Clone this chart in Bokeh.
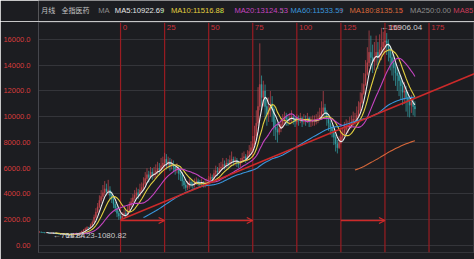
import numpy as np
from bokeh.plotting import figure
from bokeh.models import Range1d, FixedTicker, Arrow, OpenHead, ColumnDataSource
from bokeh.layouts import column
from bokeh.embed import file_html
from bokeh.resources import INLINE
from bokeh.core.properties import value

# ---------------- data (monthly bars, index -46 .. 167) ----------------
first_index = -46
closes = [
    1050, 1020, 1000, 980, 1000, 960, 940, 970, 950, 930,
    900, 880, 860, 900, 870, 850, 820, 800, 850, 880,
    900, 950, 920, 1000, 1100, 1200,
    1300, 1400, 1350, 1600, 1800,
    2200, 2600, 3000, 3500, 3800,
    4100, 4400, 4200, 4300, 3900,
    3600, 3200, 2900, 2500, 2300,
    2100, 2300, 2500, 2400, 2800,
    3100, 3400, 3700, 3900, 4100,
    3900, 4300, 4500, 4800, 5200,
    5500, 5300, 5700, 5500, 5600,
    5800, 6000, 5900, 6200, 6400,
    6700, 6300, 6500, 6200, 6300,
    6100, 5900, 6000, 5600, 5500,
    5000, 4700, 4500, 4600, 4900,
    4800, 4700, 4900, 5000, 4900,
    4800, 4900, 4700, 4800, 4900,
    5100, 5300, 5200, 5600, 5800,
    5700, 6000, 6100, 6300, 6200,
    6400, 6300, 6600, 6700, 6500,
    6600, 6400, 6300, 6500, 6800,
    6900, 6700, 7000, 7300, 7600,
    7900, 8500, 9500, 10800, 12500,
    11500, 12000, 10800, 10200, 10500,
    11000, 10600, 9200, 9000, 8800,
    9100, 9400, 9700, 10000, 9800,
    9700, 9900, 10000, 9800, 9600,
    9800, 9700, 9900, 9600, 9800,
    9700, 9900, 9600, 9600, 9700,
    9700, 9800, 9900, 10100, 10400,
    10700, 10300, 9900, 9500, 9200,
    8900, 8400, 7900, 7600, 8000,
    8400, 8700, 9000, 9200, 9200,
    9500, 9600, 9800, 9800, 10100,
    10500, 11100, 11800, 12500, 13300,
    14200, 15000, 14600, 14300, 14600,
    15000, 14600, 15200, 15400, 15800,
    15900, 15700, 15300, 14600, 14200,
    13800, 13400, 13200, 12800, 12400,
    11900, 12000, 11500, 11200, 10900,
    11100, 10800, 10600,
]
highs = [
    1100, 1080, 1040, 1020, 1030, 1010, 980, 1000, 990, 970,
    950, 920, 900, 930, 920, 890, 870, 840, 880, 910,
    940, 990, 980, 1050, 1150, 1280,
    1400, 1500, 1450, 1700, 1950,
    2400, 2900, 3300, 3900, 4300,
    4700, 5000, 4800, 5100, 4600,
    4200, 3800, 3400, 3100, 2700,
    2500, 2600, 2800, 2800, 3100,
    3400, 3700, 4000, 4300, 4500,
    4400, 4800, 4900, 5300, 5700,
    6000, 5800, 6100, 6000, 6100,
    6300, 6500, 6400, 6800, 6900,
    7200, 7100, 6900, 6800, 6700,
    6600, 6300, 6400, 6200, 5900,
    5700, 5200, 4900, 5000, 5200,
    5200, 5000, 5200, 5300, 5200,
    5100, 5200, 5000, 5100, 5200,
    5400, 5600, 5500, 5900, 6200,
    6100, 6400, 6500, 6800, 6600,
    6800, 6700, 7000, 7300, 6900,
    6900, 6800, 6600, 6800, 7200,
    7300, 7100, 7400, 7800, 8100,
    8500, 9300, 10500, 12300, 15700,
    13200, 12800, 12500, 11500, 11500,
    12000, 11600, 10800, 9800, 9500,
    9600, 9900, 10200, 10400, 10300,
    10100, 10300, 10500, 10200, 10000,
    10200, 10100, 10300, 10000, 10200,
    10100, 10300, 10000, 10000, 10100,
    10100, 10200, 10400, 10700, 11200,
    12000, 11000, 10500, 10000, 9700,
    9400, 9000, 8600, 8200, 8500,
    8900, 9200, 9600, 9800, 9700,
    10000, 10100, 10400, 10300, 10800,
    11200, 11900, 12600, 13400, 14400,
    15400, 16700, 16300, 15600, 15800,
    16300, 15800, 16400, 16906.04, 16600,
    16700, 16500, 16000, 15500, 15000,
    14600, 14200, 13900, 13500, 13200,
    12800, 12700, 12400, 11900, 11600,
    11700, 11500, 11200,
]
lows = [
    1000, 990, 970, 950, 960, 930, 910, 920, 920, 900,
    870, 850, 830, 840, 850, 820, 790, 760, 780, 830,
    850, 880, 890, 900, 980, 1060,
    1150, 1250, 1280, 1300, 1550,
    1750, 2100, 2500, 2900, 3300,
    3600, 3900, 3900, 3900, 3600,
    3300, 2900, 2600, 2200, 2000,
    1950, 2000, 2200, 2200, 2300,
    2700, 3000, 3300, 3500, 3700,
    3600, 3800, 4100, 4400, 4700,
    5000, 4900, 5200, 5100, 5200,
    5300, 5500, 5500, 5700, 5900,
    6100, 5900, 6000, 5800, 5900,
    5700, 5500, 5600, 5100, 5000,
    4600, 4400, 4200, 4300, 4400,
    4500, 4400, 4500, 4700, 4600,
    4500, 4600, 4500, 4500, 4600,
    4800, 5000, 4900, 5100, 5400,
    5400, 5600, 5800, 5900, 5900,
    6000, 6000, 6200, 6300, 6200,
    6200, 6100, 6000, 6100, 6400,
    6500, 6400, 6600, 6900, 7100,
    7400, 7800, 8300, 9300, 10500,
    10500, 10800, 9800, 9300, 9600,
    10000, 9600, 8500, 8200, 8000,
    8600, 8800, 9100, 9400, 9300,
    9300, 9400, 9600, 9400, 9200,
    9400, 9300, 9500, 9200, 9400,
    9300, 9500, 9200, 9200, 9300,
    9300, 9400, 9500, 9700, 9900,
    10000, 9800, 9300, 8900, 8600,
    8400, 7800, 7300, 7150, 7500,
    7900, 8200, 8500, 8700, 8700,
    9000, 9100, 9300, 9300, 9500,
    9900, 10400, 11000, 11700, 12400,
    13200, 13900, 13700, 13400, 13600,
    14000, 13700, 14200, 14400, 14800,
    15000, 14800, 14300, 13600, 13200,
    12800, 12400, 12000, 11600, 11300,
    10900, 11000, 10400, 10000, 9950,
    10300, 10100, 10000,
]

ma_periods = [5, 10, 20, 60, 180]
ma_colors = ["#ececec", "#e2d040", "#c444c0", "#3a96dc", "#d8683a"]

cn_texts = ["月线", "全指医药"]
cn_x = [3, 25]
header_texts = ["MA", "MA5:10922.69", "↓", "MA10:11516.88", "↓",
                "MA20:13124.53", "↓", "MA60:11533.59", "↑", "MA180:8135.15", "↑",
                "MA250:0.00", "MA85"]
header_colors = ["#8c8c8c", "#e6e6e6", "#3cc83c", "#e2d040", "#3cc83c",
                 "#c444c0", "#3cc83c", "#3a96dc", "#e03030", "#d8683a", "#e03030",
                 "#8c8c8c", "#c83c5a"]
header_x = [65, 83, 133, 144, 197, 213, 263, 274, 327, 338, 392, 404, 451]

y_ticks = [0, 2000, 4000, 6000, 8000, 10000, 12000, 14000, 16000]
y_tick_labels = ["0.00", "2000.00", "4000.00", "6000.00", "8000.00",
                 "10000.0", "12000.0", "14000.0", "16000.0"]

cycle_marks = [0, 25, 50, 75, 100, 125, 150, 175]
trend_x = [0, 201]
trend_y = [2000, 13360]
arrow_spans = [(0, 25), (50, 75), (125, 150)]
arrow_level = 1940
high_label = "←16906.04"
low_labels = ["←761.84", "1477.23-1080.82"]

# ---------------- build ----------------
BG = "#1c1d21"
RED = "#9a1c22"
n = len(closes)
idx = list(range(first_index, first_index + n))
opens = [closes[0]] + closes[:-1]
up = [c >= o for o, c in zip(opens, closes)]
col = ["#c4464e" if u else "#35a4a8" for u in up]
src = ColumnDataSource(dict(x=idx, o=opens, c=closes, h=highs, l=lows,
                            top=[max(a, b) for a, b in zip(opens, closes)],
                            bot=[min(a, b) for a, b in zip(opens, closes)], col=col))

p = figure(width=474, height=238, x_range=Range1d(-46.55, 200.8), y_range=Range1d(-544, 17320),
           output_backend="svg", toolbar_location=None, x_axis_location=None,
           min_border_left=33, min_border_right=0, min_border_top=1, min_border_bottom=7,
           background_fill_color=BG, border_fill_color=BG, outline_line_color="#34353a")
p.xgrid.visible = False
p.ygrid.grid_line_color = "#34353a"
p.ygrid.ticker = FixedTicker(ticks=y_ticks)
ax = p.yaxis[0]
ax.ticker = FixedTicker(ticks=y_ticks)
ax.major_label_overrides = {t: s for t, s in zip(y_ticks, y_tick_labels)}
ax.major_label_text_color = "#d83c3c"
ax.major_label_text_font = "Liberation Sans"
ax.major_label_text_font_size = "7.5px"
ax.major_label_standoff = 2
ax.major_tick_line_color = None
ax.minor_tick_line_color = None
ax.axis_line_color = "#45464c"

# cycle lines
p.segment(x0=cycle_marks, x1=cycle_marks, y0=-544, y1=17320, line_color=RED, line_width=1.2)
p.text(x=[m + 1.2 for m in cycle_marks], y=[16930] * len(cycle_marks),
       text=[str(m) for m in cycle_marks], text_color="#c8323a",
       text_font=value("Liberation Sans"), text_font_size="8px", text_baseline="middle")

# candles
p.segment(x0="x", x1="x", y0="h", y1="l", line_color="col", line_width=0.8,
          line_alpha=0.9, source=src)
p.vbar(x="x", width=0.6, top="top", bottom="bot", fill_color="col", line_color="col",
       line_width=0.4, fill_alpha=0.85, line_alpha=0.85, source=src)

# moving averages
arr = np.array(closes, dtype=float)
for per, colr in zip(ma_periods, ma_colors):
    ma = np.full(n, np.nan)
    cs = np.cumsum(arr)
    ma[per - 1:] = (cs[per - 1:] - np.concatenate([[0.0], cs[:-per]])) / per
    p.line(idx, ma, line_color=colr, line_width=1.1)

# trend line & arrows
p.line(trend_x, trend_y, line_color="#cc2a2a", line_width=1.5)
for a, b in arrow_spans:
    p.add_layout(Arrow(end=OpenHead(size=6, line_color="#cc2a2a", line_width=1.3),
                       x_start=a, y_start=arrow_level, x_end=b, y_end=arrow_level,
                       line_color="#cc2a2a", line_width=1.3))

# high / low labels
p.text(x=[147.6], y=[16930], text=[high_label], text_color="#d0d0d0",
       text_font=value("Liberation Sans"), text_font_size="8px", text_baseline="middle")
p.text(x=[-38.5], y=[800], text=[low_labels[0]], text_color="#c8c8c8",
       text_font=value("Liberation Sans"), text_font_size="8px", text_baseline="middle")
p.text(x=[3.3], y=[800], text=[low_labels[1]], text_color="#c8c8c8",
       text_font=value("Liberation Sans"), text_font_size="8px", text_baseline="middle",
       text_align="right")

# header
h = figure(width=474, height=21, x_range=Range1d(0, 474), y_range=Range1d(21, 0),
           output_backend="svg", toolbar_location=None, x_axis_location=None, y_axis_location=None,
           min_border=0, background_fill_color=BG, border_fill_color=BG, outline_line_color=None)
h.xgrid.visible = False
h.ygrid.visible = False
h.text(x=cn_x, y=[9.5] * len(cn_texts), text=cn_texts, text_color="#c4c4c4",
       text_font=value("Noto Sans CJK SC"), text_font_size="7px", text_baseline="middle")
h.text(x=header_x, y=[9.5] * len(header_texts), text=header_texts, text_color=header_colors,
       text_font=value("Liberation Sans"), text_font_size="7.6px", text_baseline="middle")

layout = column(h, p, spacing=0)
open("out.html", "w").write(file_html(layout, INLINE))
